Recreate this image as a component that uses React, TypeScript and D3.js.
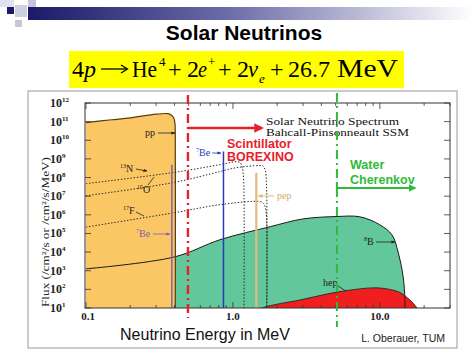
import React from 'react';
import * as d3 from 'd3';

const W = 474;
const H = 355;

// pp continuum (MeV, flux)
const ppEnergy = [0.1, 0.15, 0.2, 0.3, 0.36, 0.38, 0.395, 0.403, 0.405, 0.405];
const ppFlux = [8.9e10, 1.26e11, 1.6e11, 2.5e11, 2.7e11, 2.3e11, 1.6e11, 8e10, 3e10, 10];

// 8B continuum
const b8Energy = [0.1, 0.4, 0.816, 1.79, 2.99, 5.1, 7.31, 10, 12.1, 13.3, 14.4, 14.8, 14.8];
const b8Flux = [1.26e3, 5.5e3, 4.6e4, 2.3e5, 6.0e5, 8.1e5, 7.8e5, 2.9e5, 8.3e4, 1.0e4, 4.7e2, 30, 10];

// hep continuum
const hepEnergy = [1.3, 1.65, 2.86, 5.35, 8.95, 11.2, 13.7, 16.0, 17.7, 18.8];
const hepFlux = [5, 11.2, 27, 76, 120, 105, 68, 27, 11.2, 3];

// CNO continua
const n13Energy = [0.1, 0.4, 0.816, 1.06, 1.12, 1.16, 1.18, 1.19, 1.19];
const n13Flux = [4.7e7, 1.9e8, 4.9e8, 7.1e8, 6.3e8, 3.2e8, 1.0e8, 1e7, 10];
const o15Energy = [0.1, 0.4, 0.816, 1.06, 1.5, 1.6, 1.66, 1.69, 1.70, 1.70];
const o15Flux = [1.05e7, 5.5e7, 2.1e8, 3.4e8, 4.4e8, 4.2e8, 2.4e8, 6e7, 1e7, 10];
const f17Energy = [0.1, 0.4, 0.816, 1.53, 1.62, 1.67, 1.70, 1.70];
const f17Flux = [2.2e5, 1.3e6, 3.5e6, 5.1e6, 4.0e6, 2.0e6, 4e5, 10];

// lines
const lineNames = ['7Be384', '7Be862', 'pep'];
const lineEnergy = [0.384, 0.862, 1.442];
const lineFlux = [4.9e8, 2.5e9, 1.8e8];
const lineColors = ['#7b62ad', '#2a38c0', '#e3bb80'];

// thresholds (MeV)
const borexinoThreshold = 0.494;
const cherenkovThreshold = 5.1;

const yTickExponents = [1, 2, 3, 4, 5, 6, 7, 8, 9, 10, 11, 12];
const xTickValues = [0.1, 1, 10];
const xTickLabels = ['0.1', '1.0', '10.0'];

const serif = '"Liberation Serif", "Times New Roman", serif';
const sans = '"Liberation Sans", Arial, sans-serif';

export default function App() {
  const x = d3.scaleLog().domain([0.1, 30]).range([86, 450]);
  const y = d3.scaleLog().domain([10, 1e12]).range([308, 103]);
  const L = 85, R = 450, T = 103, B = 308;

  const toPts = (es: number[], fs: number[]) => es.map((e, i) => [e, fs[i]] as [number, number]);
  const line = d3
    .line<[number, number]>()
    .x((d) => x(d[0]))
    .y((d) => y(d[1]))
    .curve(d3.curveCatmullRom.alpha(0.5));

  const ppPts = toPts(ppEnergy, ppFlux);
  const b8Pts = toPts(b8Energy, b8Flux);
  const hepPts = toPts(hepEnergy, hepFlux);
  const ppArea = line(ppPts) + `L${x(0.1)},${y(10)}Z`;
  const b8Area = line(b8Pts) + `L${x(0.1)},${y(10)}Z`;
  const hepArea = line(hepPts) + `L${x(18.8)},${y(1)}L${x(1.3)},${y(1)}Z`;

  const allTicksX = x.ticks();
  const allTicksY = y.ticks();
  const isMajor = (v: number) => Math.abs(Math.log10(v) - Math.round(Math.log10(v))) < 1e-6;

  const xb = x(borexinoThreshold);
  const xc = x(cherenkovThreshold);

  return (
    <svg width={W} height={H} style={{ position: 'absolute', left: 0, top: 0, background: '#fff' }}>
      <defs>
        <linearGradient id="bar" x1="0" x2="1" y1="0" y2="0">
          <stop offset="0" stopColor="#1a1a68" />
          <stop offset="0.45" stopColor="#6c6ca8" />
          <stop offset="1" stopColor="#ffffff" />
        </linearGradient>
        <clipPath id="plot">
          <rect x={L} y={T} width={R - L} height={B - T} />
        </clipPath>
        <marker id="ahK" viewBox="0 0 10 10" refX="9" refY="5" markerWidth="5" markerHeight="5" orient="auto">
          <path d="M0,1 L10,5 L0,9 Z" fill="#222" />
        </marker>
        <marker id="ahB" viewBox="0 0 10 10" refX="9" refY="5" markerWidth="5" markerHeight="5" orient="auto">
          <path d="M0,1 L10,5 L0,9 Z" fill="#2a38c0" />
        </marker>
        <marker id="ahP" viewBox="0 0 10 10" refX="9" refY="5" markerWidth="5" markerHeight="5" orient="auto">
          <path d="M0,1 L10,5 L0,9 Z" fill="#7b62ad" />
        </marker>
        <marker id="ahT" viewBox="0 0 10 10" refX="9" refY="5" markerWidth="5" markerHeight="5" orient="auto">
          <path d="M0,1 L10,5 L0,9 Z" fill="#e3bb80" />
        </marker>
        <marker id="ahR" viewBox="0 0 10 10" refX="8" refY="5" markerWidth="4" markerHeight="4" orient="auto">
          <path d="M0,0 L10,5 L0,10 Z" fill="#e8202a" />
        </marker>
        <marker id="ahG" viewBox="0 0 10 10" refX="8" refY="5" markerWidth="4" markerHeight="4" orient="auto">
          <path d="M0,0 L10,5 L0,10 Z" fill="#2fbb3a" />
        </marker>
      </defs>

      {/* slide decoration */}
      <rect x={28} y={7} width={446} height={13} fill="url(#bar)" />
      <rect x={0} y={0} width={14} height={7} fill="#e2e2ee" />
      <rect x={28} y={0} width={8} height={7} fill="#c4c4de" />
      <rect x={15} y={5} width={12} height={12} fill="#cfd0e2" />
      <rect x={7} y={7} width={7} height={7} fill="#1a1a68" />
      <rect x={15} y={20} width={7} height={7} fill="#c6c6d6" />

      {/* title */}
      <text x={244} y={40} textAnchor="middle" fontFamily={sans} fontWeight="bold" fontSize={21} fill="#000">
        Solar Neutrinos
      </text>

      {/* formula */}
      <rect x={69} y={51} width={335} height={37} fill="#ffff00" />
      <g fontFamily={serif} fontSize={24} fill="#000">
        <text x={72} y={77}>4</text>
        <text x={84} y={77} fontStyle="italic">p</text>
        <line x1={101} x2={127} y1={69} y2={69} stroke="#000" strokeWidth={1.3} />
        <path d="M121,65 L127.5,69 L121,73" fill="none" stroke="#000" strokeWidth={1.3} />
        <text x={132} y={77} textLength={25} lengthAdjust="spacingAndGlyphs">He</text>
        <text x={159} y={66} fontSize={13}>4</text>
        <text x={168} y={77}>+</text>
        <text x={187} y={77}>2</text>
        <text x={198} y={77} fontStyle="italic" textLength={9} lengthAdjust="spacingAndGlyphs">e</text>
        <text x={208} y={66} fontSize={13}>+</text>
        <text x={218} y={77}>+</text>
        <text x={237} y={77}>2</text>
        <text x={248} y={77} fontStyle="italic" textLength={10} lengthAdjust="spacingAndGlyphs">ν</text>
        <text x={259} y={83} fontSize={13} fontStyle="italic">e</text>
        <text x={270} y={77}>+</text>
        <text x={288} y={77} textLength={42} lengthAdjust="spacingAndGlyphs">26.7</text>
        <text x={337} y={77} fontSize={26} textLength={61} lengthAdjust="spacingAndGlyphs">MeV</text>
      </g>

      {/* outer frame */}
      <rect x={28} y={91} width={429} height={257} fill="none" stroke="#9a9a9a" strokeWidth={1} />

      {/* filled spectra */}
      <g clipPath="url(#plot)">
        <path d={b8Area} fill="#62c79a" />
        <path d={ppArea} fill="#fbc764" />
        <path d={hepArea} fill="#f01e1e" />
        <path d={line(b8Pts) || ''} fill="none" stroke="#1a1a1a" strokeWidth={1} />
        <path d={line(ppPts) || ''} fill="none" stroke="#5a3a10" strokeWidth={1.2} />
        <path d={line(hepPts) || ''} fill="none" stroke="#1a1a1a" strokeWidth={0.8} />
        {[toPts(n13Energy, n13Flux), toPts(o15Energy, o15Flux), toPts(f17Energy, f17Flux)].map((pts, i) => (
          <path key={i} d={line(pts) || ''} fill="none" stroke="#222" strokeWidth={1} strokeDasharray="1.4,1.8" />
        ))}
        {lineEnergy.map((e, i) => (
          <line
            key={lineNames[i]}
            x1={x(e)}
            x2={x(e)}
            y1={y(lineFlux[i])}
            y2={y(10)}
            stroke={lineColors[i]}
            strokeWidth={i === 2 ? 2.2 : 1.5}
          />
        ))}
      </g>

      {/* plot frame and ticks */}
      <rect x={L} y={T} width={R - L} height={B - T} fill="none" stroke="#333" strokeWidth={1} />
      <g stroke="#333" strokeWidth={0.8}>
        {allTicksX.map((v, i) => {
          const len = isMajor(v) ? 6 : 3;
          return (
            <g key={'xt' + i}>
              <line x1={x(v)} x2={x(v)} y1={B} y2={B - len} />
              <line x1={x(v)} x2={x(v)} y1={T} y2={T + len} />
            </g>
          );
        })}
        {allTicksY.map((v, i) => {
          const len = isMajor(v) ? 6 : 3;
          return (
            <g key={'yt' + i}>
              <line x1={L} x2={L + len} y1={y(v)} y2={y(v)} />
              <line x1={R} x2={R - len} y1={y(v)} y2={y(v)} />
            </g>
          );
        })}
      </g>

      {/* y tick labels */}
      <g fontFamily={serif} fontWeight="bold" fontSize={12} fill="#222">
        {yTickExponents.map((k) => (
          <text key={k} x={50} y={y(Math.pow(10, k)) + 4}>
            10
            <tspan dy={-5} fontSize={7}>
              {k}
            </tspan>
          </text>
        ))}
      </g>
      {/* x tick labels */}
      <g fontFamily={serif} fontWeight="bold" fontSize={11} fill="#222" textAnchor="middle">
        {xTickValues.map((v, i) => (
          <text key={i} x={x(v) + (i === 0 ? 2 : 0)} y={320}>
            {xTickLabels[i]}
          </text>
        ))}
      </g>

      {/* y axis title */}
      <text
        transform="translate(49,232) rotate(-90)"
        textAnchor="middle"
        fontFamily={serif}
        fontSize={11}
        fill="#222"
        textLength={150}
        lengthAdjust="spacingAndGlyphs"
      >
        Flux (/cm²/s or /cm²/s/MeV)
      </text>

      {/* x axis title */}
      <text x={205} y={340} textAnchor="middle" fontFamily={sans} fontSize={16} fill="#111">
        Neutrino Energy in MeV
      </text>
      <text x={445} y={342} textAnchor="end" fontFamily={sans} fontSize={10.5} fill="#222">
        L. Oberauer, TUM
      </text>

      {/* chart annotations */}
      <g fontFamily={serif} fontSize={11} fill="#111">
        <text x={266} y={125} textLength={133} lengthAdjust="spacingAndGlyphs">Solar Neutrino Spectrum</text>
        <text x={266} y={136} textLength={143} lengthAdjust="spacingAndGlyphs">Bahcall-Pinsonneault SSM</text>
      </g>
      <g fontFamily={serif} fontSize={10} fill="#222">
        <text x={145} y={136}>pp</text>
        <line x1={158} y1={133} x2={175} y2={133} stroke="#222" strokeWidth={0.8} markerEnd="url(#ahK)" />
        <text x={120} y={172}>
          <tspan fontSize={6} dy={-4}>13</tspan>
          <tspan dy={4}>N</tspan>
        </text>
        <line x1={136} y1={169} x2={147} y2={171} stroke="#222" strokeWidth={0.8} markerEnd="url(#ahK)" />
        <text x={137} y={193}>
          <tspan fontSize={6} dy={-4}>15</tspan>
          <tspan dy={4}>O</tspan>
        </text>
        <line x1={148} y1={185} x2={154} y2={177} stroke="#222" strokeWidth={0.8} />
        <text x={123} y={214}>
          <tspan fontSize={6} dy={-4}>17</tspan>
          <tspan dy={4}>F</tspan>
        </text>
        <line x1={136} y1={212} x2={144} y2={216} stroke="#222" strokeWidth={0.8} />
        <text x={364} y={245}>
          <tspan fontSize={6} dy={-4}>8</tspan>
          <tspan dy={4}>B</tspan>
        </text>
        <line x1={376} y1={242} x2={395} y2={242} stroke="#222" strokeWidth={0.8} markerEnd="url(#ahK)" />
        <text x={323} y={286}>hep</text>
        <line x1={338} y1={286} x2={346} y2={291} stroke="#222" strokeWidth={0.8} />
      </g>
      <text x={196} y={156} fontFamily={serif} fontSize={10} fill="#2a38c0">
        <tspan fontSize={6} dy={-4}>7</tspan>
        <tspan dy={4}>Be</tspan>
      </text>
      <line x1={212} y1={153} x2={221} y2={153} stroke="#2a38c0" strokeWidth={0.8} markerEnd="url(#ahB)" />
      <text x={136} y={237} fontFamily={serif} fontSize={10} fill="#7b62ad">
        <tspan fontSize={6} dy={-4}>7</tspan>
        <tspan dy={4}>Be</tspan>
      </text>
      <line x1={153} y1={234} x2={170} y2={234} stroke="#7b62ad" strokeWidth={0.8} markerEnd="url(#ahP)" />
      <text x={277} y={199} fontFamily={serif} fontSize={10} fill="#d9aa6a">pep</text>
      <line x1={274} y1={196} x2={258} y2={196} stroke="#e3bb80" strokeWidth={1} markerEnd="url(#ahT)" />

      {/* thresholds */}
      <line x1={xb} x2={xb} y1={95} y2={318} stroke="#e8202a" strokeWidth={2.4} strokeDasharray="9,4,2,4" />
      <line x1={xb} x2={262} y1={128} y2={128} stroke="#e8202a" strokeWidth={2.4} markerEnd="url(#ahR)" />
      <line x1={xc} x2={xc} y1={93} y2={327} stroke="#2fbb3a" strokeWidth={2} strokeDasharray="9,4,2,4" />
      <line x1={xc} x2={xc} y1={182} y2={188} stroke="#2fbb3a" strokeWidth={2} />
      <line x1={xc} x2={415} y1={188} y2={188} stroke="#2fbb3a" strokeWidth={2} markerEnd="url(#ahG)" />

      <g fontFamily={sans} fontWeight="bold" fontSize={12.5} fill="#e8202a">
        <text x={227} y={148}>Scintillator</text>
        <text x={227} y={161}>BOREXINO</text>
      </g>
      <g fontFamily={sans} fontWeight="bold" fontSize={12.5} fill="#2fbb3a">
        <text x={350} y={169}>Water</text>
        <text x={350} y={184}>Cherenkov</text>
      </g>
    </svg>
  );
}
